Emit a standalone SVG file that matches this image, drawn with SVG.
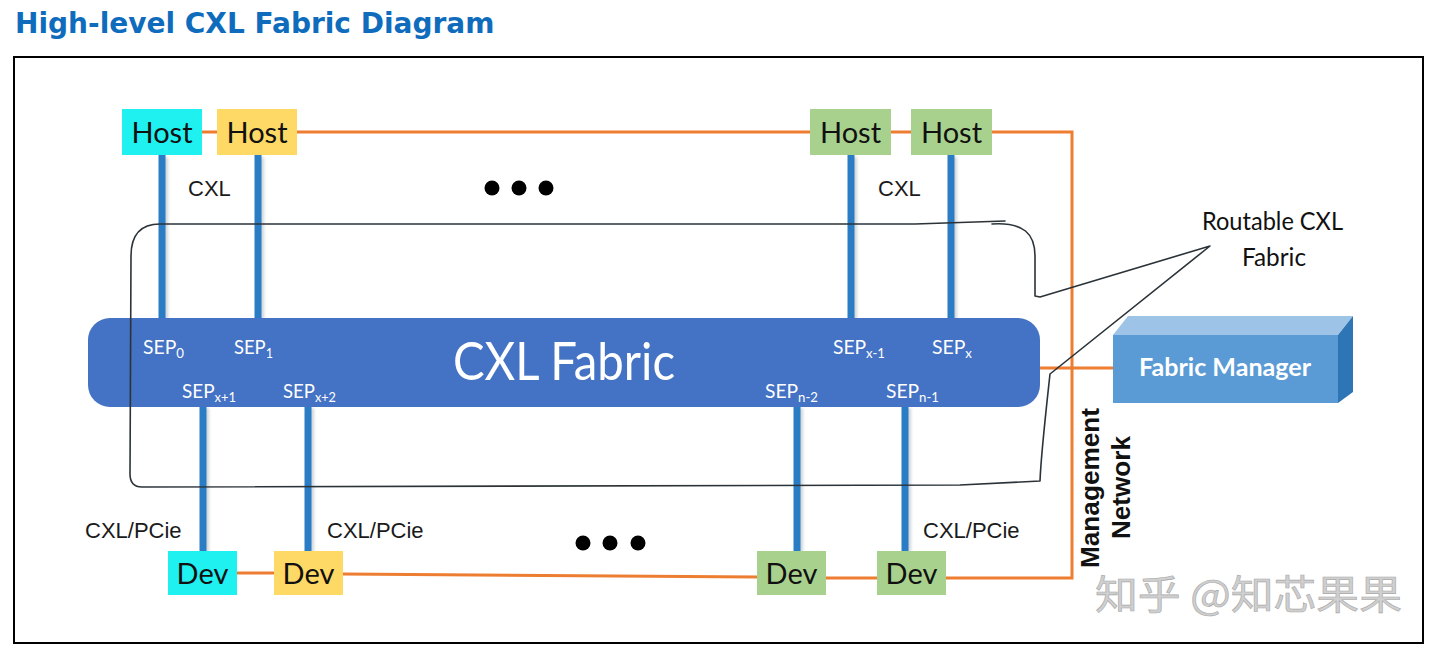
<svg xmlns="http://www.w3.org/2000/svg" width="1440" height="653" viewBox="0 0 1440 653">
<defs>
<filter id="blur" x="-50%" y="-5%" width="200%" height="110%"><feGaussianBlur stdDeviation="1.5"/></filter>
</defs>
<style>
.title{font-family:"DejaVu Sans",Verdana,sans-serif;font-weight:bold;font-size:28px;fill:#0f6cbd}
.box{stroke:none}
.lbl{font-family:Lato,"Open Sans",sans-serif;font-size:29px;fill:#111;text-anchor:middle}
.sep{font-family:Lato,"Open Sans",sans-serif;font-size:19px;fill:#fff}
.sub{font-size:13px}
.proto{font-family:"Liberation Sans",Arial,sans-serif;font-size:22px;fill:#1a1a1a}
.orange{fill:none;stroke:#ed7d31;stroke-width:3}
.blue{stroke:#2a7dc4;stroke-width:7;fill:none}
.shadow{stroke:#7d8790;stroke-width:6;fill:none;opacity:0.35;filter:url(#blur)}
.sketch{fill:none;stroke:#2b3338;stroke-width:1.6;stroke-linejoin:round;stroke-linecap:round}
.dot{fill:#000}
</style>
<rect width="1440" height="653" fill="#fff"/>
<text class="title" x="15" y="33">High-level CXL Fabric Diagram</text>
<rect x="14" y="57" width="1409" height="586" fill="none" stroke="#000" stroke-width="2"/>

<g id="connectors">
  <path class="orange" d="M202,132 H217 M297,132 H810 M891,132 H911 M992,132 H1072 V578 H946 M877,578 H826 M757,577 L343,574 M274,573 H237"/>
  <path class="orange" d="M1040,368 H1113"/>
  <path class="shadow" d="M165,157 V322 M261,157 V322 M854,157 V322 M954,157 V322 M206,408 V552 M311,408 V552 M800,408 V552 M908,408 V552"/>
  <path class="blue" d="M162,154 V321 M258,154 V321 M851,154 V321 M951,154 V321 M203,406 V552 M308,406 V552 M797,406 V552 M905,406 V552"/>
</g>

<g id="fabric">
  <rect x="88" y="318" width="952" height="89" rx="22" ry="22" fill="#4472c4"/>
  <text x="453" y="380" font-family="Lato,'Open Sans',sans-serif" font-size="53" fill="#fff" textLength="222" lengthAdjust="spacingAndGlyphs">CXL Fabric</text>
  <text class="sep" x="143" y="354" textLength="41" lengthAdjust="spacingAndGlyphs">SEP<tspan class="sub" dy="4">0</tspan></text>
  <text class="sep" x="234" y="354" textLength="39" lengthAdjust="spacingAndGlyphs">SEP<tspan class="sub" dy="4">1</tspan></text>
  <text class="sep" x="833" y="354" textLength="52" lengthAdjust="spacingAndGlyphs">SEP<tspan class="sub" dy="4">x-1</tspan></text>
  <text class="sep" x="932" y="354" textLength="40" lengthAdjust="spacingAndGlyphs">SEP<tspan class="sub" dy="4">x</tspan></text>
  <text class="sep" x="182" y="398" textLength="54" lengthAdjust="spacingAndGlyphs">SEP<tspan class="sub" dy="4">x+1</tspan></text>
  <text class="sep" x="283" y="398" textLength="53" lengthAdjust="spacingAndGlyphs">SEP<tspan class="sub" dy="4">x+2</tspan></text>
  <text class="sep" x="765" y="398" textLength="53" lengthAdjust="spacingAndGlyphs">SEP<tspan class="sub" dy="4">n-2</tspan></text>
  <text class="sep" x="886" y="398" textLength="53" lengthAdjust="spacingAndGlyphs">SEP<tspan class="sub" dy="4">n-1</tspan></text>
</g>

<g id="routable-fabric">
  <path class="sketch" d="M160,224 L915,224 L1005,221 M992,224 C1024,222 1035,234 1035,256 L1035,296 L1040,297 L1210,246 L1050,374 C1045,420 1041,455 1040,481 L960,485 L142,487 Q130,487 130,474 L131,256 Q131,224 160,224"/>
  <text x="1202" y="230" font-family="Lato,'Open Sans',sans-serif" font-size="25" fill="#111" textLength="141" lengthAdjust="spacingAndGlyphs">Routable CXL</text>
  <text x="1242" y="266" font-family="Lato,'Open Sans',sans-serif" font-size="25" fill="#111" textLength="64" lengthAdjust="spacingAndGlyphs">Fabric</text>
</g>

<g id="host0"><rect class="box" x="122" y="109" width="80" height="46" fill="#1ff0f0"/><text class="lbl" x="162" y="143">Host</text></g>
<g id="host1"><rect class="box" x="217" y="109" width="80" height="46" fill="#ffd966"/><text class="lbl" x="257" y="143">Host</text></g>
<g id="host2"><rect class="box" x="810" y="109" width="81" height="46" fill="#a9d18e"/><text class="lbl" x="850.5" y="143">Host</text></g>
<g id="host3"><rect class="box" x="911" y="109" width="81" height="46" fill="#a9d18e"/><text class="lbl" x="951.5" y="143">Host</text></g>

<g id="dev0"><rect class="box" x="168" y="551" width="69" height="44" fill="#1ff0f0"/><text class="lbl" x="202.5" y="584">Dev</text></g>
<g id="dev1"><rect class="box" x="274" y="551" width="69" height="44" fill="#ffd966"/><text class="lbl" x="308.5" y="584">Dev</text></g>
<g id="dev2"><rect class="box" x="757" y="551" width="69" height="44" fill="#a9d18e"/><text class="lbl" x="791.5" y="584">Dev</text></g>
<g id="dev3"><rect class="box" x="877" y="551" width="69" height="44" fill="#a9d18e"/><text class="lbl" x="911.5" y="584">Dev</text></g>

<g id="fabric-manager">
  <polygon points="1113,335 1128,316 1353,316 1338,335" fill="#9dc3e6"/>
  <polygon points="1338,335 1353,316 1353,392 1338,403" fill="#2e75b6"/>
  <rect x="1113" y="335" width="225" height="68" fill="#5b9bd5"/>
  <text x="1139" y="376" font-family="Lato,'Open Sans',sans-serif" font-weight="bold" font-size="24" fill="#fff" textLength="172" lengthAdjust="spacingAndGlyphs">Fabric Manager</text>
</g>

<g id="labels">
  <text class="proto" x="188" y="196">CXL</text>
  <text class="proto" x="878" y="196">CXL</text>
  <text class="proto" x="85" y="538">CXL/PCie</text>
  <text class="proto" x="327" y="538">CXL/PCie</text>
  <text class="proto" x="923" y="538">CXL/PCie</text>
  <text font-family="'Liberation Sans',Arial,sans-serif" font-weight="bold" font-size="25" fill="#111" transform="translate(1099,568) rotate(-90)" textLength="160" lengthAdjust="spacingAndGlyphs">Management</text>
  <text font-family="'Liberation Sans',Arial,sans-serif" font-weight="bold" font-size="25" fill="#111" transform="translate(1130,539) rotate(-90)" textLength="103" lengthAdjust="spacingAndGlyphs">Network</text>
  <circle class="dot" cx="492" cy="188" r="7.5"/><circle class="dot" cx="519" cy="188" r="7.5"/><circle class="dot" cx="546" cy="188" r="7.5"/>
  <circle class="dot" cx="583" cy="543" r="7.5"/><circle class="dot" cx="610" cy="543" r="7.5"/><circle class="dot" cx="638" cy="543" r="7.5"/>
  <text x="1095" y="609" font-family="'Noto Sans CJK SC',sans-serif" font-size="40" fill="#cfcfcf" stroke="#a8a8a8" stroke-width="0.6" textLength="307" lengthAdjust="spacingAndGlyphs">知乎 @知芯果果</text>
</g>
</svg>
